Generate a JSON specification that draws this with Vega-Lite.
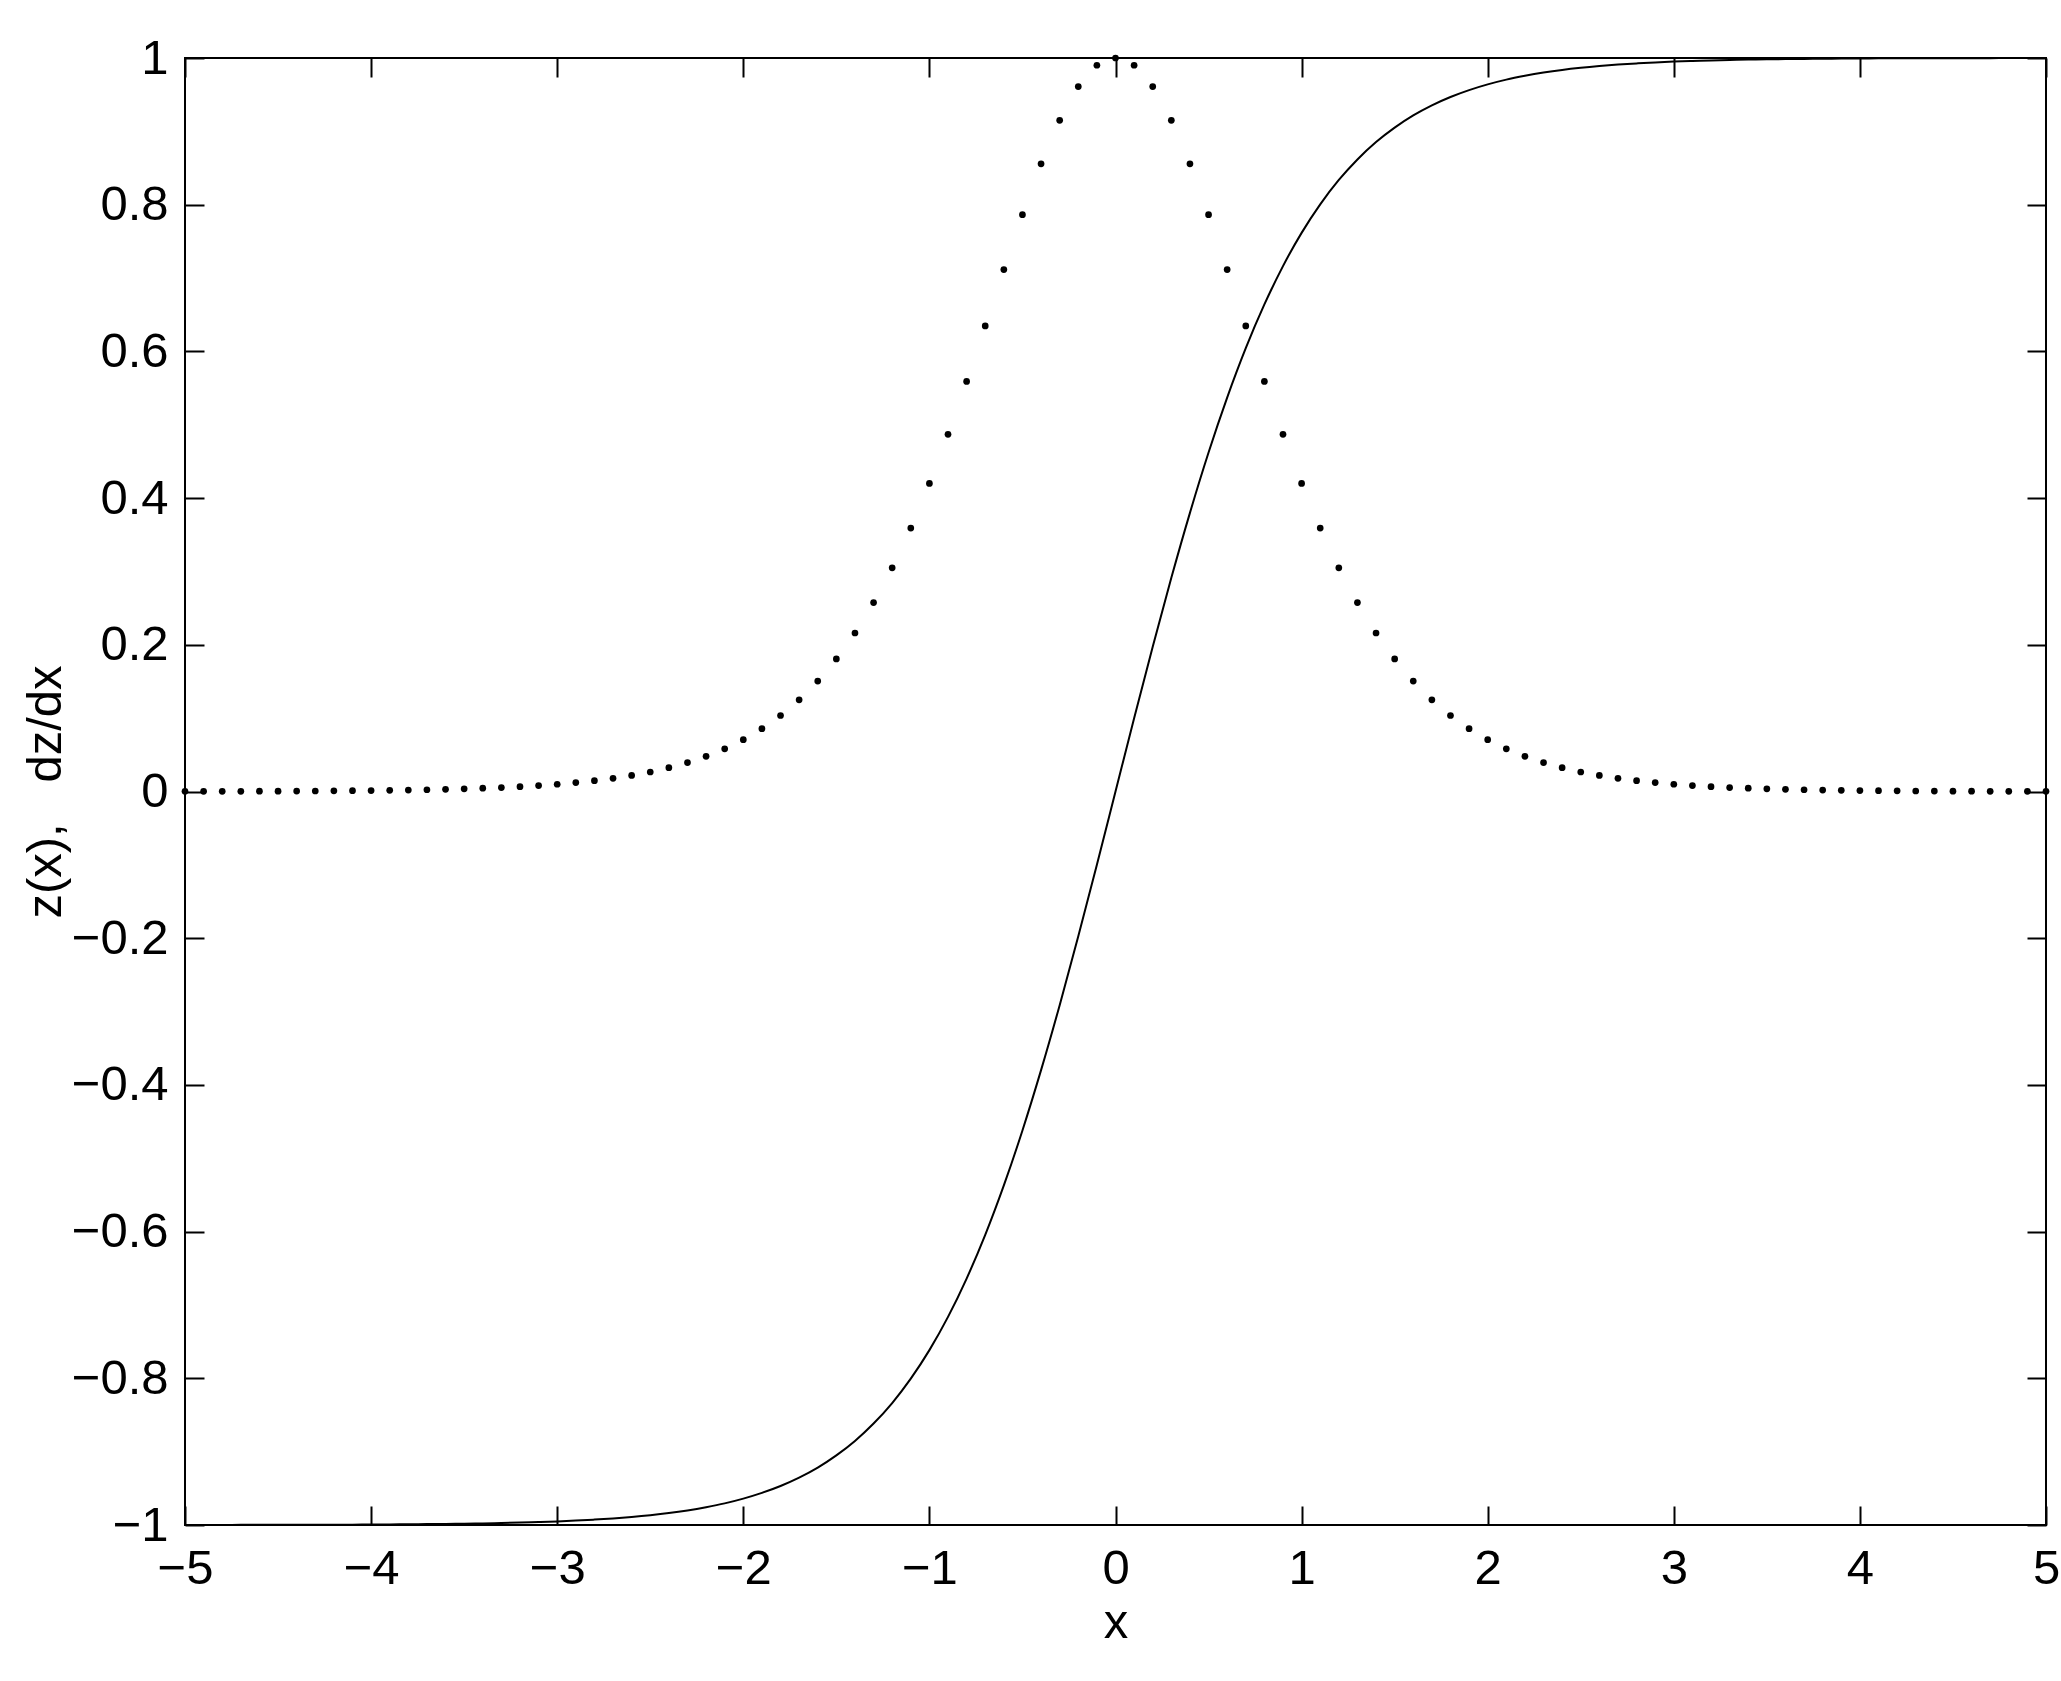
{
  "$schema": "https://vega.github.io/schema/vega-lite/v6.json",
  "description": "z(x) = tanh(x) and its derivative dz/dx",
  "width": 1861,
  "height": 1467,
  "autosize": "none",
  "padding": {"left": 185, "top": 58, "right": 15, "bottom": 156},
  "background": "white",
  "config": {
    "view": {"stroke": "black", "strokeWidth": 2},
    "font": "Liberation Sans",
    "axis": {
      "grid": false,
      "domain": false,
      "tickColor": "black",
      "tickWidth": 2,
      "tickSize": -19,
      "labelFlush": false,
      "labelColor": "black",
      "labelFont": "Liberation Sans",
      "labelFontSize": 49,
      "titleColor": "black",
      "titleFont": "Liberation Sans",
      "titleFontSize": 49,
      "titleFontWeight": "normal"
    }
  },
  "data": {
    "values": [
      {"x": -5.0, "z": -0.9999, "dz": 0.0002},
      {"x": -4.9, "z": -0.9999, "dz": 0.0002},
      {"x": -4.8, "z": -0.9999, "dz": 0.0003},
      {"x": -4.7, "z": -0.9998, "dz": 0.0003},
      {"x": -4.6, "z": -0.9998, "dz": 0.0004},
      {"x": -4.5, "z": -0.9998, "dz": 0.0005},
      {"x": -4.4, "z": -0.9997, "dz": 0.0006},
      {"x": -4.3, "z": -0.9996, "dz": 0.0007},
      {"x": -4.2, "z": -0.9996, "dz": 0.0009},
      {"x": -4.1, "z": -0.9995, "dz": 0.0011},
      {"x": -4.0, "z": -0.9993, "dz": 0.0013},
      {"x": -3.9, "z": -0.9992, "dz": 0.0016},
      {"x": -3.8, "z": -0.9990, "dz": 0.0020},
      {"x": -3.7, "z": -0.9988, "dz": 0.0024},
      {"x": -3.6, "z": -0.9985, "dz": 0.0030},
      {"x": -3.5, "z": -0.9982, "dz": 0.0036},
      {"x": -3.4, "z": -0.9978, "dz": 0.0045},
      {"x": -3.3, "z": -0.9973, "dz": 0.0054},
      {"x": -3.2, "z": -0.9967, "dz": 0.0066},
      {"x": -3.1, "z": -0.9959, "dz": 0.0081},
      {"x": -3.0, "z": -0.9951, "dz": 0.0099},
      {"x": -2.9, "z": -0.9940, "dz": 0.0121},
      {"x": -2.8, "z": -0.9926, "dz": 0.0148},
      {"x": -2.7, "z": -0.9910, "dz": 0.0180},
      {"x": -2.6, "z": -0.9890, "dz": 0.0219},
      {"x": -2.5, "z": -0.9866, "dz": 0.0266},
      {"x": -2.4, "z": -0.9837, "dz": 0.0325},
      {"x": -2.3, "z": -0.9801, "dz": 0.0395},
      {"x": -2.2, "z": -0.9757, "dz": 0.0480},
      {"x": -2.1, "z": -0.9705, "dz": 0.0582},
      {"x": -2.0, "z": -0.9640, "dz": 0.0707},
      {"x": -1.9, "z": -0.9562, "dz": 0.0857},
      {"x": -1.8, "z": -0.9468, "dz": 0.1036},
      {"x": -1.7, "z": -0.9354, "dz": 0.1250},
      {"x": -1.6, "z": -0.9217, "dz": 0.1505},
      {"x": -1.5, "z": -0.9051, "dz": 0.1808},
      {"x": -1.4, "z": -0.8854, "dz": 0.2161},
      {"x": -1.3, "z": -0.8617, "dz": 0.2575},
      {"x": -1.2, "z": -0.8337, "dz": 0.3049},
      {"x": -1.1, "z": -0.8005, "dz": 0.3592},
      {"x": -1.0, "z": -0.7616, "dz": 0.4200},
      {"x": -0.9, "z": -0.7163, "dz": 0.4869},
      {"x": -0.8, "z": -0.6640, "dz": 0.5591},
      {"x": -0.7, "z": -0.6044, "dz": 0.6347},
      {"x": -0.6, "z": -0.5370, "dz": 0.7116},
      {"x": -0.5, "z": -0.4621, "dz": 0.7864},
      {"x": -0.4, "z": -0.3799, "dz": 0.8557},
      {"x": -0.3, "z": -0.2913, "dz": 0.9151},
      {"x": -0.2, "z": -0.1974, "dz": 0.9610},
      {"x": -0.1, "z": -0.0997, "dz": 0.9901},
      {"x": 0.0, "z": 0.0, "dz": 1.0},
      {"x": 0.1, "z": 0.0997, "dz": 0.9901},
      {"x": 0.2, "z": 0.1974, "dz": 0.9610},
      {"x": 0.3, "z": 0.2913, "dz": 0.9151},
      {"x": 0.4, "z": 0.3799, "dz": 0.8557},
      {"x": 0.5, "z": 0.4621, "dz": 0.7864},
      {"x": 0.6, "z": 0.5370, "dz": 0.7116},
      {"x": 0.7, "z": 0.6044, "dz": 0.6347},
      {"x": 0.8, "z": 0.6640, "dz": 0.5591},
      {"x": 0.9, "z": 0.7163, "dz": 0.4869},
      {"x": 1.0, "z": 0.7616, "dz": 0.4200},
      {"x": 1.1, "z": 0.8005, "dz": 0.3592},
      {"x": 1.2, "z": 0.8337, "dz": 0.3049},
      {"x": 1.3, "z": 0.8617, "dz": 0.2575},
      {"x": 1.4, "z": 0.8854, "dz": 0.2161},
      {"x": 1.5, "z": 0.9051, "dz": 0.1808},
      {"x": 1.6, "z": 0.9217, "dz": 0.1505},
      {"x": 1.7, "z": 0.9354, "dz": 0.1250},
      {"x": 1.8, "z": 0.9468, "dz": 0.1036},
      {"x": 1.9, "z": 0.9562, "dz": 0.0857},
      {"x": 2.0, "z": 0.9640, "dz": 0.0707},
      {"x": 2.1, "z": 0.9705, "dz": 0.0582},
      {"x": 2.2, "z": 0.9757, "dz": 0.0480},
      {"x": 2.3, "z": 0.9801, "dz": 0.0395},
      {"x": 2.4, "z": 0.9837, "dz": 0.0325},
      {"x": 2.5, "z": 0.9866, "dz": 0.0266},
      {"x": 2.6, "z": 0.9890, "dz": 0.0219},
      {"x": 2.7, "z": 0.9910, "dz": 0.0180},
      {"x": 2.8, "z": 0.9926, "dz": 0.0148},
      {"x": 2.9, "z": 0.9940, "dz": 0.0121},
      {"x": 3.0, "z": 0.9951, "dz": 0.0099},
      {"x": 3.1, "z": 0.9959, "dz": 0.0081},
      {"x": 3.2, "z": 0.9967, "dz": 0.0066},
      {"x": 3.3, "z": 0.9973, "dz": 0.0054},
      {"x": 3.4, "z": 0.9978, "dz": 0.0045},
      {"x": 3.5, "z": 0.9982, "dz": 0.0036},
      {"x": 3.6, "z": 0.9985, "dz": 0.0030},
      {"x": 3.7, "z": 0.9988, "dz": 0.0024},
      {"x": 3.8, "z": 0.9990, "dz": 0.0020},
      {"x": 3.9, "z": 0.9992, "dz": 0.0016},
      {"x": 4.0, "z": 0.9993, "dz": 0.0013},
      {"x": 4.1, "z": 0.9995, "dz": 0.0011},
      {"x": 4.2, "z": 0.9996, "dz": 0.0009},
      {"x": 4.3, "z": 0.9996, "dz": 0.0007},
      {"x": 4.4, "z": 0.9997, "dz": 0.0006},
      {"x": 4.5, "z": 0.9998, "dz": 0.0005},
      {"x": 4.6, "z": 0.9998, "dz": 0.0004},
      {"x": 4.7, "z": 0.9998, "dz": 0.0003},
      {"x": 4.8, "z": 0.9999, "dz": 0.0003},
      {"x": 4.9, "z": 0.9999, "dz": 0.0002},
      {"x": 5.0, "z": 0.9999, "dz": 0.0002}
    ]
  },
  "layer": [
    {
      "mark": {"type": "line", "color": "black", "strokeWidth": 2, "interpolate": "monotone"},
      "encoding": {
        "x": {
          "field": "x",
          "type": "quantitative",
          "scale": {"domain": [-5, 5], "nice": false},
          "axis": {
            "orient": "bottom",
            "values": [-5, -4, -3, -2, -1, 0, 1, 2, 3, 4, 5],
            "format": "~g",
            "labelBaseline": "alphabetic",
            "labelPadding": 77,
            "title": "x",
            "titleBaseline": "alphabetic",
            "titleY": 112
          }
        },
        "y": {
          "field": "z",
          "type": "quantitative",
          "scale": {"domain": [-1, 1], "nice": false},
          "axis": {
            "orient": "left",
            "values": [-1, -0.8, -0.6, -0.4, -0.2, 0, 0.2, 0.4, 0.6, 0.8, 1],
            "format": "~g",
            "labelPadding": 36,
            "title": "z(x),\u00a0\u00a0\u00a0dz/dx",
            "titleBaseline": "alphabetic",
            "titleX": -125
          }
        }
      }
    },
    {
      "mark": {"type": "point", "filled": true, "color": "black", "opacity": 1, "size": 45},
      "encoding": {
        "x": {
          "field": "x",
          "type": "quantitative",
          "axis": {"orient": "top", "values": [-5, -4, -3, -2, -1, 0, 1, 2, 3, 4, 5], "labels": false, "title": null}
        },
        "y": {
          "field": "dz",
          "type": "quantitative",
          "axis": {"orient": "right", "values": [-1, -0.8, -0.6, -0.4, -0.2, 0, 0.2, 0.4, 0.6, 0.8, 1], "labels": false, "title": null}
        }
      }
    }
  ],
  "resolve": {"axis": {"x": "independent", "y": "independent"}}
}
